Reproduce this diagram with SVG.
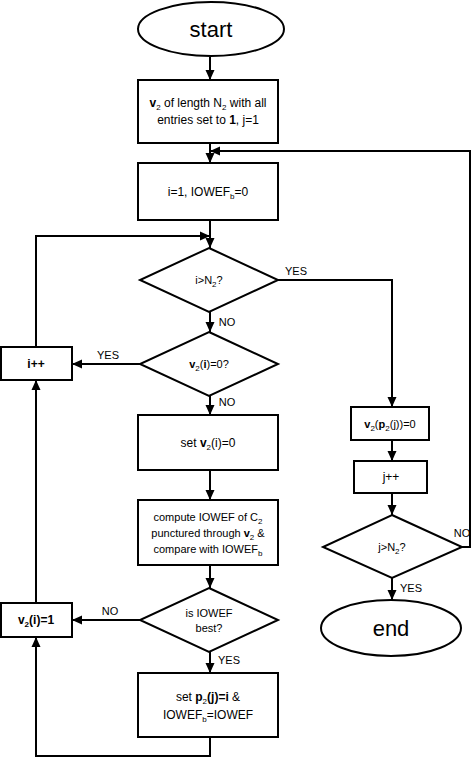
<svg xmlns="http://www.w3.org/2000/svg" width="474" height="759" viewBox="0 0 474 759">
<defs>
<marker id="ah" markerUnits="userSpaceOnUse" markerWidth="10" markerHeight="10" viewBox="0 0 10 10" refX="10" refY="5" orient="auto">
<path d="M0,0.5 L10,5 L0,9.5 Z" fill="#000"/>
</marker>
<style>
.s{fill:#fff;stroke:#000;stroke-width:2}
.c{fill:none;stroke:#000;stroke-width:2}
text{font-family:"Liberation Sans",Arial,sans-serif;fill:#000;text-anchor:middle}
.t{font-size:12px}
.l{font-size:11px}
.b{font-weight:bold}
.big{font-size:22px}
.sub{font-size:8px}
</style>
</defs>
<g id="connectors">
<line class="c" x1="210" y1="57" x2="210" y2="80" marker-end="url(#ah)"/>
<line class="c" x1="210" y1="143" x2="210" y2="163" marker-end="url(#ah)"/>
<polyline class="c" points="462,547 470,547 470,151 210,151" marker-end="url(#ah)"/>
<line class="c" x1="210" y1="220" x2="210" y2="248" marker-end="url(#ah)"/>
<polyline class="c" points="36,347 36,236 210,236" marker-end="url(#ah)"/>
<line class="c" x1="210" y1="312" x2="210" y2="332" marker-end="url(#ah)"/>
<polyline class="c" points="278,280 392,280 392,407" marker-end="url(#ah)"/>
<line class="c" x1="140" y1="364" x2="72" y2="364" marker-end="url(#ah)"/>
<line class="c" x1="210" y1="396" x2="210" y2="415" marker-end="url(#ah)"/>
<line class="c" x1="210" y1="470" x2="210" y2="500" marker-end="url(#ah)"/>
<line class="c" x1="210" y1="565" x2="210" y2="588" marker-end="url(#ah)"/>
<line class="c" x1="140" y1="620" x2="72" y2="620" marker-end="url(#ah)"/>
<line class="c" x1="36" y1="603" x2="36" y2="380" marker-end="url(#ah)"/>
<line class="c" x1="210" y1="652" x2="210" y2="673" marker-end="url(#ah)"/>
<polyline class="c" points="210,737 210,756 36,756 36,637" marker-end="url(#ah)"/>
<line class="c" x1="392" y1="440" x2="392" y2="461" marker-end="url(#ah)"/>
<line class="c" x1="392" y1="493" x2="392" y2="515" marker-end="url(#ah)"/>
<line class="c" x1="392" y1="578" x2="392" y2="600" marker-end="url(#ah)"/>
<text class="l" x="296" y="275">YES</text>
<text class="l" x="227" y="326">NO</text>
<text class="l" x="108" y="359">YES</text>
<text class="l" x="227" y="406">NO</text>
<text class="l" x="110" y="615">NO</text>
<text class="l" x="229" y="664">YES</text>
<text class="l" x="462" y="537">NO</text>
<text class="l" x="411" y="592">YES</text>
</g>
<g id="start">
<ellipse class="s" cx="211" cy="29" rx="73" ry="27"/>
<text class="big" x="211" y="37">start</text>
</g>
<g id="init">
<rect class="s" x="138" y="80" width="140" height="63"/>
<text class="t" x="208" y="107"><tspan class="b">v</tspan><tspan class="sub" dy="3">2</tspan><tspan dy="-3"> of length N</tspan><tspan class="sub" dy="3">2</tspan><tspan dy="-3"> with all</tspan></text>
<text class="t" x="208" y="124">entries set to <tspan class="b">1</tspan>, j=1</text>
</g>
<g id="init-i">
<rect class="s" x="138" y="163" width="140" height="57"/>
<text class="t" x="208" y="196">i=1, IOWEF<tspan class="sub" dy="3">b</tspan><tspan dy="-3">=0</tspan></text>
</g>
<g id="cond-i">
<polygon class="s" points="209,248 278,280 209,312 140,280"/>
<text class="l" x="209" y="284">i&gt;N<tspan class="sub" dy="3">2</tspan><tspan dy="-3">?</tspan></text>
</g>
<g id="inc-i">
<rect class="s" x="1" y="347" width="71" height="33"/>
<text class="t b" x="36" y="368">i++</text>
</g>
<g id="cond-v">
<polygon class="s" points="209,332 278,364 209,396 140,364"/>
<text class="l" x="209" y="368"><tspan class="b">v</tspan><tspan class="sub" dy="3">2</tspan><tspan dy="-3">(</tspan><tspan class="b">i</tspan>)=0?</text>
</g>
<g id="set-v0">
<rect class="s" x="138" y="415" width="140" height="55"/>
<text class="t" x="208" y="447">set <tspan class="b">v</tspan><tspan class="sub" dy="3">2</tspan><tspan dy="-3">(i)=0</tspan></text>
</g>
<g id="compute">
<rect class="s" x="138" y="500" width="140" height="65"/>
<text class="l" x="208" y="521">compute IOWEF of C<tspan class="sub" dy="3">2</tspan></text>
<text class="l" x="208" y="537">punctured through <tspan class="b">v</tspan><tspan class="sub" dy="3">2</tspan><tspan dy="-3"> &amp;</tspan></text>
<text class="l" x="208" y="553">compare with IOWEF<tspan class="sub" dy="3">b</tspan></text>
</g>
<g id="cond-best">
<polygon class="s" points="209,588 278,620 209,652 140,620"/>
<text class="l" x="209" y="617">is IOWEF</text>
<text class="l" x="209" y="632">best?</text>
</g>
<g id="set-v1">
<rect class="s" x="1" y="603" width="71" height="34"/>
<text class="t b" x="36" y="624">v<tspan class="sub" dy="3">2</tspan><tspan dy="-3">(i)=1</tspan></text>
</g>
<g id="set-p">
<rect class="s" x="138" y="673" width="140" height="64"/>
<text class="t" x="208" y="701">set <tspan class="b">p</tspan><tspan class="sub" dy="3">2</tspan><tspan dy="-3" class="b">(j)=i</tspan> &amp;</text>
<text class="t" x="208" y="719">IOWEF<tspan class="sub" dy="3">b</tspan><tspan dy="-3">=IOWEF</tspan></text>
</g>
<g id="reset-v">
<rect class="s" x="351" y="407" width="78" height="33"/>
<text class="l" x="390" y="428"><tspan class="b">v</tspan><tspan class="sub" dy="3">2</tspan><tspan dy="-3">(</tspan><tspan class="b">p</tspan><tspan class="sub" dy="3">2</tspan><tspan dy="-3">(j))=0</tspan></text>
</g>
<g id="inc-j">
<rect class="s" x="354" y="461" width="73" height="32"/>
<text class="t" x="391" y="481">j++</text>
</g>
<g id="cond-j">
<polygon class="s" points="392,515 462,547 392,578 323,547"/>
<text class="l" x="392" y="551">j&gt;N<tspan class="sub" dy="3">2</tspan><tspan dy="-3">?</tspan></text>
</g>
<g id="end">
<ellipse class="s" cx="391" cy="628" rx="70" ry="28"/>
<text class="big" x="391" y="636">end</text>
</g>
</svg>
